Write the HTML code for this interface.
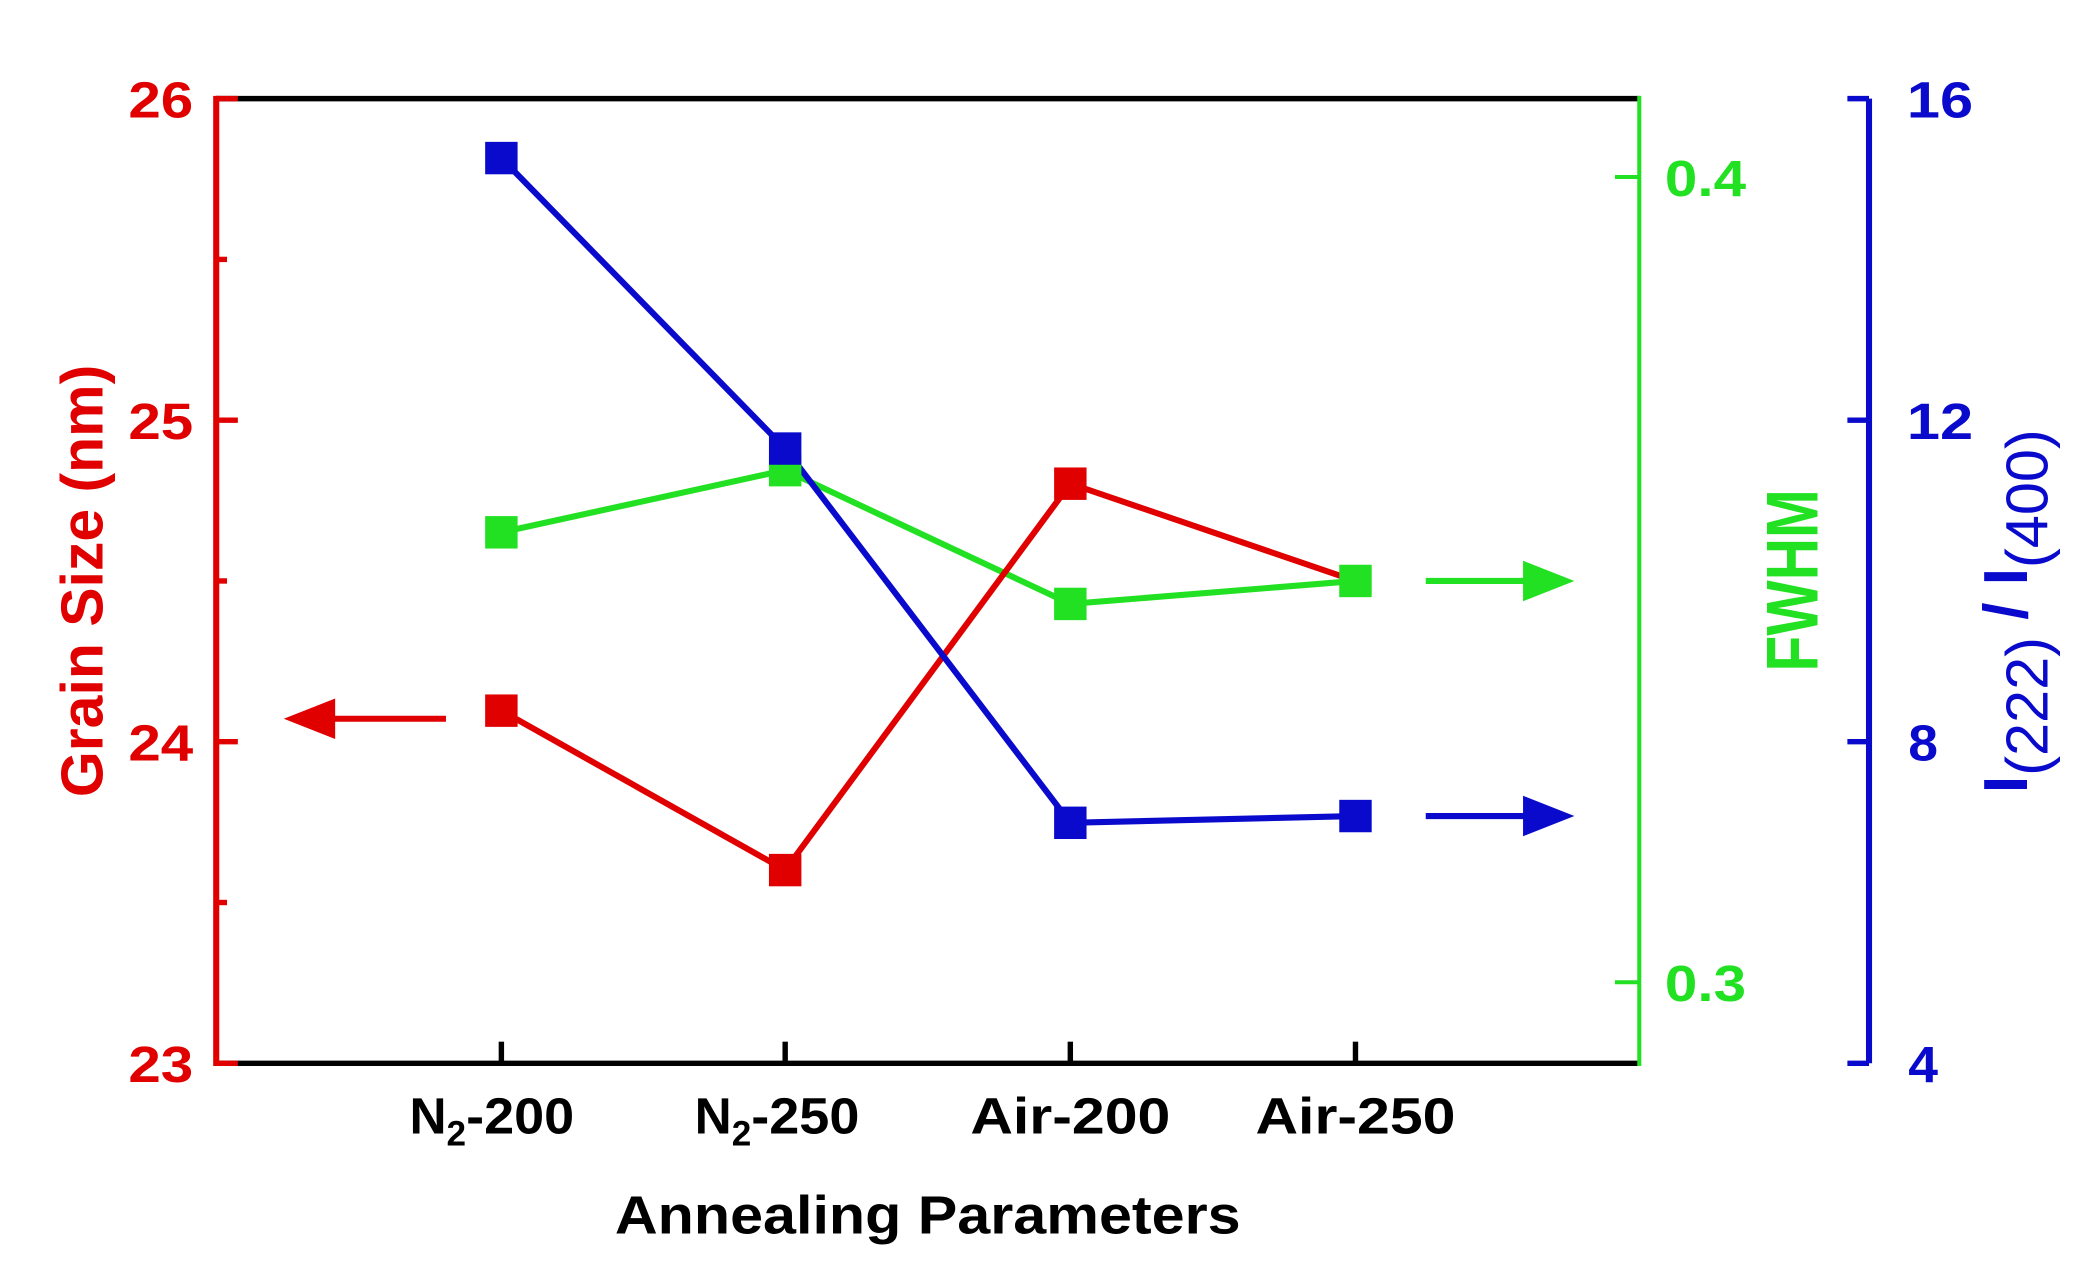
<!DOCTYPE html>
<html><head><meta charset="utf-8"><style>html,body{margin:0;padding:0;background:#fff}svg{display:block}</style></head><body>
<svg width="2092" height="1270" viewBox="0 0 1548 940" preserveAspectRatio="none" xmlns="http://www.w3.org/2000/svg" font-family="Liberation Sans, Arial, sans-serif" font-weight="bold">
<!-- frame -->
<line x1="160" y1="73" x2="1213" y2="73" stroke="#000" stroke-width="4"/>
<line x1="160" y1="787" x2="1213" y2="787" stroke="#000" stroke-width="4"/>
<line x1="160" y1="71" x2="160" y2="789" stroke="#e00000" stroke-width="4.5"/>
<line x1="1213" y1="71" x2="1213" y2="789" stroke="#22e022" stroke-width="3"/>
<line x1="1383" y1="73" x2="1383" y2="787" stroke="#0a0acc" stroke-width="4.5"/>
<!-- left ticks -->
<g stroke="#e00000" stroke-width="4">
<line x1="160" y1="73" x2="176" y2="73"/><line x1="160" y1="311" x2="176" y2="311"/><line x1="160" y1="549" x2="176" y2="549"/><line x1="160" y1="787" x2="176" y2="787"/>
<line x1="160" y1="192" x2="168" y2="192"/><line x1="160" y1="430" x2="168" y2="430"/><line x1="160" y1="668" x2="168" y2="668"/>
</g>
<g fill="#e00000" font-size="38">
<text x="95" y="87" textLength="48" lengthAdjust="spacingAndGlyphs">26</text>
<text x="95" y="325" textLength="48" lengthAdjust="spacingAndGlyphs">25</text>
<text x="95" y="563" textLength="48" lengthAdjust="spacingAndGlyphs">24</text>
<text x="95" y="801" textLength="48" lengthAdjust="spacingAndGlyphs">23</text>
</g>
<text transform="translate(76,590) rotate(-90)" fill="#e00000" font-size="44" textLength="320" lengthAdjust="spacingAndGlyphs">Grain Size (nm)</text>
<!-- green ticks -->
<g stroke="#22e022" stroke-width="3"><line x1="1195" y1="131" x2="1213" y2="131"/><line x1="1195" y1="727" x2="1213" y2="727"/></g>
<g fill="#22e022" font-size="38">
<text x="1232" y="145" textLength="60" lengthAdjust="spacingAndGlyphs">0.4</text>
<text x="1232" y="741" textLength="60" lengthAdjust="spacingAndGlyphs">0.3</text></g>
<text transform="translate(1345,497) rotate(-90)" fill="#22e022" font-size="54" textLength="135" lengthAdjust="spacingAndGlyphs">FWHM</text>
<!-- blue ticks -->
<g stroke="#0a0acc" stroke-width="4">
<line x1="1367" y1="73" x2="1383" y2="73"/><line x1="1367" y1="311" x2="1383" y2="311"/><line x1="1367" y1="549" x2="1383" y2="549"/><line x1="1367" y1="787" x2="1383" y2="787"/>
</g>
<g fill="#0a0acc" font-size="38">
<text x="1411" y="87" textLength="49" lengthAdjust="spacingAndGlyphs">16</text>
<text x="1411" y="325" textLength="49" lengthAdjust="spacingAndGlyphs">12</text>
<text x="1412" y="563" textLength="22" lengthAdjust="spacingAndGlyphs">8</text>
<text x="1412" y="801" textLength="22" lengthAdjust="spacingAndGlyphs">4</text></g>
<text transform="translate(1500,587) rotate(-90)" fill="#0a0acc" font-size="46">I<tspan font-weight="normal" font-size="44" dy="15">(222)</tspan><tspan dy="-15"> / I</tspan><tspan font-weight="normal" font-size="44" dy="15">(400)</tspan></text>
<!-- x ticks -->
<g stroke="#000" stroke-width="4"><line x1="371" y1="787" x2="371" y2="771"/><line x1="581" y1="787" x2="581" y2="771"/><line x1="792" y1="787" x2="792" y2="771"/><line x1="1003" y1="787" x2="1003" y2="771"/></g>
<g fill="#000" font-size="38">
<text x="303" y="839">N<tspan font-size="26" dy="9">2</tspan><tspan dy="-9" textLength="80" lengthAdjust="spacingAndGlyphs">-200</tspan></text>
<text x="514" y="839">N<tspan font-size="26" dy="9">2</tspan><tspan dy="-9" textLength="80" lengthAdjust="spacingAndGlyphs">-250</tspan></text>
<text x="718" y="839" textLength="148" lengthAdjust="spacingAndGlyphs">Air-200</text>
<text x="929" y="839" textLength="148" lengthAdjust="spacingAndGlyphs">Air-250</text>
<text x="455" y="913" font-size="40" textLength="463" lengthAdjust="spacingAndGlyphs">Annealing Parameters</text>
</g>
<!-- series -->
<polyline points="371,394 581,348 792,447 1003,430" fill="none" stroke="#22e022" stroke-width="4.5"/>
<polyline points="371,526 581,644 792,358 1003,430" fill="none" stroke="#e00000" stroke-width="4.5"/>
<polyline points="371,117 581,332 792,609 1003,604" fill="none" stroke="#0a0acc" stroke-width="4.5"/>
<g fill="#22e022"><rect x="359" y="382" width="24" height="24"/><rect x="569" y="336" width="24" height="24"/><rect x="780" y="435" width="24" height="24"/><rect x="991" y="418" width="24" height="24"/></g>
<g fill="#e00000"><rect x="359" y="514" width="24" height="24"/><rect x="569" y="632" width="24" height="24"/><rect x="780" y="346" width="24" height="24"/></g>
<g fill="#0a0acc"><rect x="359" y="105" width="24" height="24"/><rect x="569" y="320" width="24" height="24"/><rect x="780" y="597" width="24" height="24"/><rect x="991" y="592" width="24" height="24"/></g>
<!-- arrows -->
<line x1="330" y1="532" x2="240" y2="532" stroke="#e00000" stroke-width="4.5"/><polygon points="210,532 248,517 248,547" fill="#e00000"/>
<line x1="1055" y1="430" x2="1135" y2="430" stroke="#22e022" stroke-width="4.5"/><polygon points="1165,430 1127,415 1127,445" fill="#22e022"/>
<line x1="1055" y1="604" x2="1135" y2="604" stroke="#0a0acc" stroke-width="4.5"/><polygon points="1165,604 1127,589 1127,619" fill="#0a0acc"/>
</svg>
</body></html>
